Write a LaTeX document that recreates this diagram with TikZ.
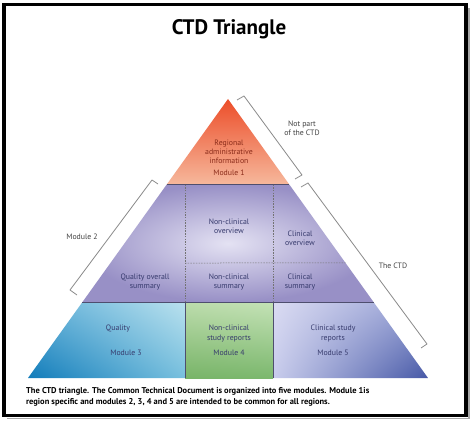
\documentclass[tikz,border=0pt]{standalone}
\usepackage{fontspec}
\setmainfont{PT Sans}
\setsansfont{PT Sans}
\usetikzlibrary{calc,shadings}
\definecolor{mtop}{HTML}{EC4E2A}
\definecolor{mbot}{HTML}{F6B89C}
\definecolor{pin}{HTML}{E4E2F3}
\definecolor{pout}{HTML}{9890C6}
\definecolor{txtblue}{HTML}{363A6C}
\definecolor{txtred}{HTML}{8A2C1A}
\definecolor{brk}{HTML}{8A8A8A}
\definecolor{edge}{HTML}{4E4E6E}
\definecolor{qul}{RGB}{96,176,216}
\definecolor{qur}{RGB}{186,225,238}
\definecolor{qll}{RGB}{18,124,186}
\definecolor{qlr}{RGB}{120,192,222}
\definecolor{gul}{RGB}{188,220,172}
\definecolor{gur}{RGB}{196,226,182}
\definecolor{gll}{RGB}{120,180,104}
\definecolor{glr}{RGB}{124,184,110}
\definecolor{cul}{RGB}{218,219,242}
\definecolor{cur}{RGB}{150,160,212}
\definecolor{cll}{RGB}{200,204,236}
\definecolor{clr}{RGB}{70,88,166}
\begin{document}
\begin{tikzpicture}[x=1pt,y=-1pt,
  lbl/.style={font=\fontsize{7.8}{9.2}\selectfont, align=center, text=txtblue, inner sep=0pt},
  redlbl/.style={lbl, text=txtred},
  outlbl/.style={lbl, text=black!75},
  bracket/.style={draw=brk, line width=0.8pt, line join=round},
  divline/.style={draw=edge, line width=0.6pt},
  dashline/.style={draw=black!55, line width=0.5pt, dash pattern=on 1.5pt off 1.2pt}]
\useasboundingbox (0,0) rectangle (474,425);
\fill[white] (0,0) rectangle (474,425);
% frame
\draw[black!35, line width=1.5pt] (469,8) -- (469,418.5) -- (7,418.5);
\draw[black, line width=3.5pt] (3.8,4.6) rectangle (466,415.5);
% title
\node[font=\bfseries\fontsize{21}{24}\selectfont] (title) at (229,29) {CTD Triangle};
% coordinates
\coordinate (A) at (228,99);
\coordinate (BL) at (28,378);
\coordinate (BR) at (428,378);
\coordinate (M1L) at ($(A)!0.3065!(BL)$);
\coordinate (M1R) at ($(A)!0.3065!(BR)$);
\coordinate (M2L) at ($(A)!0.7276!(BL)$);
\coordinate (M2R) at ($(A)!0.7276!(BR)$);
\coordinate (HR) at ($(A)!0.5878!(BR)$);
\coordinate (D1t) at (185,184.5);
\coordinate (D1h) at (185,263);
\coordinate (D1m) at (185,302);
\coordinate (D1b) at (185,378);
\coordinate (D2t) at (273,184.5);
\coordinate (D2m) at (273,302);
\coordinate (D2b) at (273,378);
% module 1
\shade[top color=mtop, bottom color=mbot] (A) -- (M1R) -- (M1L) -- cycle;
% module 2 band
\shade[inner color=pin, outer color=pout] (M1L) -- (M1R) -- (M2R) -- (M2L) -- cycle;
% module 3
\shade[upper left=qul, upper right=qur, lower left=qll, lower right=qlr]
       (M2L) -- (D1m) -- (D1b) -- (BL) -- cycle;
% module 4
\shade[upper left=gul, upper right=gur, lower left=gll, lower right=glr]
       (D1m) rectangle (D2b);
% module 5
\shade[upper left=cul, upper right=cur, lower left=cll, lower right=clr]
       (D2m) -- (M2R) -- (BR) -- (D2b) -- cycle;
% lines
\draw[divline] (M1L) -- (M1R);
\draw[divline] (M2L) -- (M2R);
\draw[divline] (D1m) -- (D1b);
\draw[divline] (D2m) -- (D2b);
\draw[dashline] (D1t) -- (D1m);
\draw[dashline] (D2t) -- (D2m);
\draw[dashline] (D1h) -- (HR);
% brackets
\draw[bracket] (237,100) -- (244,96) -- (302,175) -- (295,179);
\draw[bracket] (301,187) -- (308,183) -- (427,344) -- (421,348);
\draw[bracket] (158,184) -- (152,180) -- (70,290) -- (77,295);
% texts
\node[redlbl] (t1) at (229,152) {Regional\\administrative\\information};
\node[redlbl] (m1) at (229,173) {Module 1};
\node[lbl] (ncov) at (229,226.5) {Non-clinical\\overview};
\node[lbl] (cov) at (300,238) {Clinical\\overview};
\node[lbl] (qos) at (145,282) {Quality overall\\summary};
\node[lbl] (ncs) at (229,282) {Non-clinical\\summary};
\node[lbl] (cs) at (300,282) {Clinical\\summary};
\node[lbl] (q) at (118,329) {Quality};
\node[lbl] (m3) at (126,353) {Module 3};
\node[lbl] (ncsr) at (229,333.5) {Non-clinical\\study reports};
\node[lbl] (m4) at (229,353) {Module 4};
\node[lbl] (csr) at (333,333.5) {Clinical study\\reports};
\node[lbl] (m5) at (333,353) {Module 5};
\node[outlbl] (np) at (302,128.5) {Not part\\of the CTD};
\node[outlbl] (mod2) at (82,237) {Module 2};
\node[outlbl] (ctd) at (393,266) {The CTD};
\node[anchor=north west, align=left, inner sep=0pt, font=\bfseries\fontsize{8.45}{11}\selectfont] (cap) at (26,387)
  {The CTD triangle. The Common Technical Document is organized into five modules. Module 1is\\
   region specific and modules 2, 3, 4 and 5 are intended to be common for all regions.};
\end{tikzpicture}
\end{document}
